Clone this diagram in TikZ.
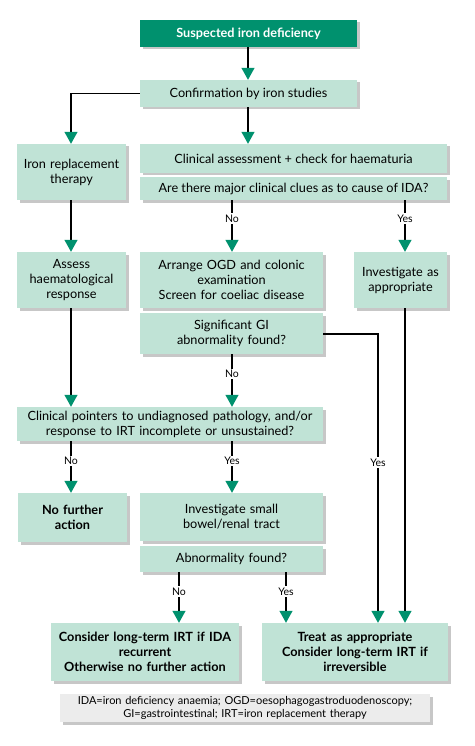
\documentclass[tikz,border=0pt]{standalone}
\usepackage{fontspec}
\setmainfont{Lato}
\usetikzlibrary{arrows.meta,shadows}
\definecolor{dteal}{RGB}{0,145,110}
\definecolor{lteal}{RGB}{192,227,214}
\definecolor{lgray}{RGB}{236,236,236}
\begin{document}
\begin{tikzpicture}[x=1pt,y=-1pt,
  box/.style={fill=lteal,draw=none,align=center,inner sep=2pt,font=\fontsize{12.7}{15}\selectfont,
    drop shadow={shadow xshift=2.5pt,shadow yshift=-2.5pt,fill=black,opacity=0.22}},
  bbox/.style={box,font=\fontsize{12.7}{15}\bfseries\selectfont},
  lab/.style={fill=white,inner sep=1.5pt,font=\fontsize{10.5}{12}\selectfont},
  conn/.style={draw=black,line width=1.2pt,-{Triangle[width=13pt,length=12pt,fill=dteal,color=dteal]}},
  plain/.style={draw=black,line width=1.2pt}]
\useasboundingbox (0,0) rectangle (474,746);
\fill[white] (0,0) rectangle (474,746);
% boxes
\node[box,fill=dteal,text=white,font=\fontsize{12.7}{15}\bfseries\selectfont,minimum width=217pt,minimum height=27pt] (top) at (248.5,33.5) {Suspected iron deficiency};
\node[box,minimum width=217pt,minimum height=27pt] (conf) at (248.5,93.5) {Confirmation by iron studies};
\node[box,minimum width=109pt,minimum height=56pt,text width=105pt] (irt) at (71.5,172) {Iron replacement\\therapy};
\node[box,minimum width=307pt,minimum height=29pt] (clin) at (293.5,158.5) {Clinical assessment + check for haematuria};
\node[box,minimum width=307pt,minimum height=23pt] (clues) at (293.5,188.5) {Are there major clinical clues as to cause of IDA?};
\node[box,minimum width=109pt,minimum height=56pt,text width=105pt] (assess) at (71.5,280) {Assess\\haematological\\response};
\node[box,minimum width=183pt,minimum height=56pt,text width=179pt] (ogd) at (231.5,280) {Arrange OGD and colonic\\examination\\Screen for coeliac disease};
\node[box,minimum width=93pt,minimum height=56pt,text width=89pt] (invapp) at (400.5,280) {Investigate as\\appropriate};
\node[box,minimum width=183pt,minimum height=41pt,text width=179pt] (sig) at (231.5,333.5) {Significant GI\\abnormality found?};
\node[box,minimum width=306pt,minimum height=34pt,text width=302pt] (ptr) at (170,424) {Clinical pointers to undiagnosed pathology, and/or\\response to IRT incomplete or unsustained?};
\node[bbox,minimum width=109pt,minimum height=49pt,text width=105pt] (nfa) at (72.5,517.5) {No further\\action};
\node[box,minimum width=183pt,minimum height=48pt,text width=179pt] (small) at (231.5,517) {Investigate small\\bowel/renal tract};
\node[box,minimum width=183pt,minimum height=26pt,text width=179pt] (abn) at (231.5,559) {Abnormality found?};
\node[bbox,minimum width=186pt,minimum height=58pt,text width=184pt] (cons) at (145,652) {Consider long-term IRT if IDA\\recurrent\\Otherwise no further action};
\node[bbox,minimum width=184pt,minimum height=58pt,text width=182pt] (treat) at (355,652) {Treat as appropriate\\Consider long-term IRT if\\irreversible};
\node[box,fill=lgray,minimum width=368pt,minimum height=28pt,text width=366pt,font=\fontsize{11}{13}\selectfont] (leg) at (245,708) {IDA=iron deficiency anaemia; OGD=oesophagogastroduodenoscopy;\\GI=gastrointestinal; IRT=iron replacement therapy};
% helper x positions
\coordinate (xl) at (71,0);
\coordinate (xm) at (232,0);
\coordinate (xr) at (405,0);
\coordinate (xg) at (378,0);
\coordinate (xn) at (179,0);
\coordinate (xy) at (286,0);
\coordinate (xt) at (248,0);
% connectors
\draw[conn] (top.south -| xt) -- (conf.north -| xt);
\draw[conn] (conf.west) -- (conf.west -| xl) -- (irt.north -| xl);
\draw[conn] (conf.south -| xt) -- (clin.north -| xt);
\draw[conn] (irt.south -| xl) -- (assess.north -| xl);
\draw[conn] (clues.south -| xm) -- node[lab,pos=0.36]{No} (ogd.north -| xm);
\draw[conn] (clues.south -| xr) -- node[lab,pos=0.36]{Yes} (invapp.north -| xr);
\draw[conn] (assess.south -| xl) -- (ptr.north -| xl);
\draw[conn] (sig.south -| xm) -- node[lab,pos=0.38]{No} (ptr.north -| xm);
\draw[conn] (sig.east |- 0,334) -- (xg |- 0,334) -- node[lab,pos=0.445]{Yes} (treat.north -| xg);
\draw[conn] (invapp.south -| xr) -- (treat.north -| xr);
\draw[conn] (ptr.south -| xl) -- node[lab,pos=0.38]{No} (nfa.north -| xl);
\draw[conn] (ptr.south -| xm) -- node[lab,pos=0.38]{Yes} (small.north -| xm);
\draw[conn] (abn.south -| xn) -- node[lab,pos=0.38]{No} (cons.north -| xn);
\draw[conn] (abn.south -| xy) -- node[lab,pos=0.38]{Yes} (treat.north -| xy);
\end{tikzpicture}
\end{document}
